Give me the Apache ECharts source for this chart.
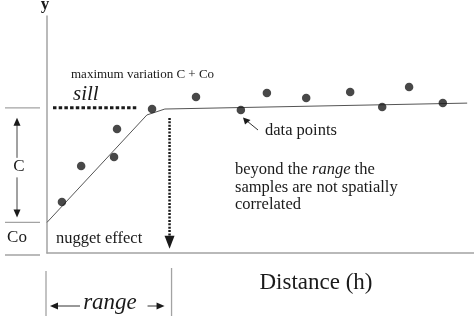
<!DOCTYPE html>
<html><head><meta charset="utf-8">
<script src="https://cdn.jsdelivr.net/npm/echarts@6/dist/echarts.min.js"></script>
<style>html,body{margin:0;padding:0;background:#fff}#c{width:474px;height:325px}</style>
</head><body><div id="c"></div>
<script>
// ---- data ----
const modelX = [0, 2.34, 2.76, 9.84];
const modelY = [1.55, 6.99, 7.29, 7.59];
const pointsX = [0.35, 0.80, 1.57, 1.64, 2.46, 3.49, 4.54, 5.15, 6.07, 7.10, 7.85, 8.48, 9.27];
const pointsY = [2.58, 4.41, 4.86, 6.28, 7.29, 7.90, 7.24, 8.10, 7.85, 8.15, 7.39, 8.41, 7.59];
const sillValue = 7.35;
const nuggetValue = 1.55;
const sillLineX = [0.14, 2.13];
const rangeValue = 2.87;
const rangeArrowY = [6.84, 0.55];
const axisX = [0, 10];
const axisY = [0, 12];

const SERIF = '"Liberation Serif", "DejaVu Serif", serif';
const AXIS_COL = '#a3a3a3';
const INK = '#1a1a1a';

const chart = echarts.init(document.getElementById('c'), null, {renderer: 'canvas'});

const axisCommon = {
  axisLine: {show: true, lineStyle: {color: AXIS_COL, width: 1.5}},
  axisTick: {show: false}, axisLabel: {show: false}, splitLine: {show: false}
};

chart.setOption({
  animation: false,
  backgroundColor: '#fff',
  grid: {left: 47, right: 0, top: 16, bottom: 72},
  xAxis: Object.assign({type: 'value', min: axisX[0], max: axisX[1]}, axisCommon),
  yAxis: Object.assign({type: 'value', min: axisY[0], max: axisY[1]}, axisCommon),
  series: [
    {name: 'model', type: 'line', showSymbol: false, symbol: 'none',
     data: modelX.map((x, i) => [x, modelY[i]]),
     lineStyle: {color: '#555', width: 1}, z: 2},
    {name: 'data points', type: 'scatter', symbolSize: 8.5,
     data: pointsX.map((x, i) => [x, pointsY[i]]),
     itemStyle: {color: INK}, z: 3},
    {name: 'sill', type: 'line', symbol: 'none',
     data: sillLineX.map(x => [x, sillValue]),
     lineStyle: {color: INK, width: 3, type: [3.5, 2.2]}},
    {name: 'range', type: 'line', showSymbol: true,
     data: [
       {value: [rangeValue, rangeArrowY[0]], symbol: 'none'},
       {value: [rangeValue, rangeArrowY[1]], symbol: 'triangle', symbolSize: [10, 13], symbolRotate: 180}
     ],
     itemStyle: {color: INK},
     lineStyle: {color: INK, width: 2.5, type: [2, 1.4]}}
  ]
});

const px = (x, y) => chart.convertToPixel({gridIndex: 0}, [x, y]);
const ySill = px(0, sillValue)[1];
const yNug = px(0, nuggetValue)[1];
const yZero = px(0, 0)[1];
const x0 = px(0, 0)[0];
const xR = px(rangeValue, 0)[0];

function line(x1, y1, x2, y2, color, w) {
  return {type: 'line', shape: {x1, y1, x2, y2}, style: {stroke: color, lineWidth: w}, silent: true};
}
function head(points) {
  return {type: 'polygon', shape: {points}, style: {fill: INK}, silent: true};
}
function text(x, y, str, size, opts) {
  opts = opts || {};
  return {type: 'text', x, y, silent: true,
    style: Object.assign({text: str, font: (opts.weight ? opts.weight + ' ' : '') + (opts.italic ? 'italic ' : '') + size + 'px ' + SERIF,
      fill: INK, textAlign: opts.align || 'left', textVerticalAlign: opts.valign || 'middle'}, opts.extra || {})};
}

const ax = 17;
const g = [
  // left level ticks
  line(5, ySill, 40, ySill, AXIS_COL, 1.3),
  line(5, yNug, 40, yNug, AXIS_COL, 1.3),
  line(5, yZero + 2, 40, yZero + 2, AXIS_COL, 1.3),
  // C arrows
  line(ax, ySill + 16, ax, ySill + 50, '#444', 1),
  head([[ax, ySill + 10], [ax - 3.5, ySill + 18], [ax + 3.5, ySill + 18]]),
  line(ax, yNug - 45, ax, yNug - 12, '#444', 1),
  head([[ax, yNug - 5], [ax - 3.5, yNug - 13], [ax + 3.5, yNug - 13]]),
  text(19, 167, 'C', 17, {align: 'center'}),
  text(17, 238, 'Co', 17, {align: 'center'}),
  // range bracket
  line(x0 - 1, 271, x0 - 1, 316, AXIS_COL, 1.3),
  line(xR + 2, 268, xR + 2, 316, AXIS_COL, 1.3),
  line(x0 + 10, 306, x0 + 33, 306, '#333', 1),
  head([[x0 + 3, 306], [x0 + 11, 302.5], [x0 + 11, 309.5]]),
  line(xR - 22, 306, xR - 12, 306, '#333', 1),
  head([[xR - 5, 306], [xR - 13, 302.5], [xR - 13, 309.5]]),
  text(110, 303, 'range', 23, {align: 'center', italic: true}),
  // texts
  text(45, 5, 'y', 17, {align: 'center', weight: 'bold'}),
  text(71, 75, 'maximum variation C + Co', 13),
  text(73, 94, 'sill', 21, {italic: true}),
  text(265, 131, 'data points', 16.5),
  line(258, 130, 247, 121, '#333', 1),
  head([[243, 117.5], [245, 124.5], [250.5, 120]]),
  text(235, 161, 'beyond the {i|range} the\nsamples are not spatially\ncorrelated', 16.5,
       {valign: 'top', extra: {lineHeight: 17.5, rich: {i: {font: 'italic 16.5px ' + SERIF, fill: INK, lineHeight: 17.5}}}}),
  text(56, 239, 'nugget effect', 16.5),
  text(316, 283, 'Distance (h)', 23, {align: 'center'})
];
chart.setOption({graphic: {elements: g}});
</script>
</body></html>
